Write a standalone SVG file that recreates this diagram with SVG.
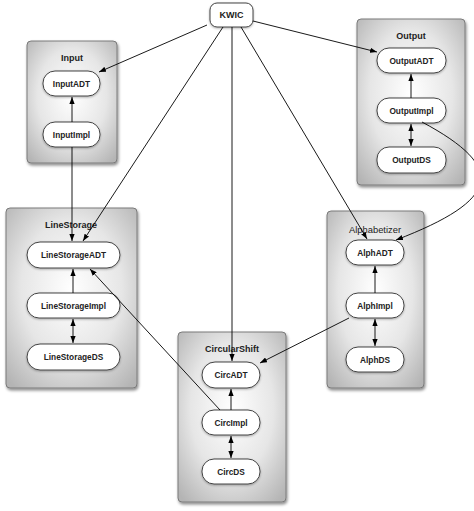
<svg xmlns="http://www.w3.org/2000/svg" width="474" height="511" viewBox="0 0 474 511">
<defs>
<radialGradient id="cg" cx="50%" cy="45%" r="70%">
<stop offset="0" stop-color="#ffffff"/>
<stop offset="0.55" stop-color="#e6e6e6"/>
<stop offset="1" stop-color="#b4b4b4"/>
</radialGradient>
<filter id="sh" x="-10%" y="-10%" width="130%" height="130%">
<feDropShadow dx="1" dy="2" stdDeviation="1.5" flood-color="#000" flood-opacity="0.45"/>
</filter>
<filter id="nsh" x="-10%" y="-10%" width="130%" height="140%">
<feDropShadow dx="0" dy="1" stdDeviation="0.8" flood-color="#000" flood-opacity="0.3"/>
</filter>
<marker id="ah" viewBox="0 0 8 6" refX="8" refY="3" markerWidth="7" markerHeight="5.5" markerUnits="userSpaceOnUse" orient="auto-start-reverse">
<path d="M0,0 L8,3 L0,6 z" fill="#000"/>
</marker>
</defs>
<style>
.cont{fill:url(#cg);stroke:#7a7a7a;stroke-width:1;filter:url(#sh)}
.node{fill:#fff;stroke:#444;stroke-width:1;filter:url(#nsh)}
.title{font-family:"Liberation Sans",Arial,sans-serif;font-size:9px;font-weight:bold;fill:#222;text-anchor:middle}
.atitle{font-family:"Liberation Sans",Arial,sans-serif;font-size:9.4px;fill:#222;text-anchor:middle}
.lbl{font-family:"Liberation Sans",Arial,sans-serif;font-size:8.3px;font-weight:bold;fill:#222;text-anchor:middle}
.e{fill:none;stroke:#000;stroke-width:0.9;marker-end:url(#ah)}
.d{fill:none;stroke:#000;stroke-width:0.9;marker-end:url(#ah);marker-start:url(#ah)}
</style>

<g id="Input">
<rect class="cont" x="27" y="41" width="90" height="122" rx="4"/>
<text class="title" x="72" y="61">Input</text>
</g>
<g id="Output">
<rect class="cont" x="357" y="19" width="108" height="166" rx="4"/>
<text class="title" x="411" y="39">Output</text>
</g>
<g id="LineStorage">
<rect class="cont" x="6" y="208" width="131" height="180" rx="4"/>
<text class="title" x="71" y="228">LineStorage</text>
</g>
<g id="Alphabetizer">
<rect class="cont" x="327" y="211" width="97" height="177" rx="4"/>
<text class="atitle" x="375" y="233">Alphabetizer</text>
</g>
<g id="CircularShift">
<rect class="cont" x="178" y="332" width="108" height="170" rx="4"/>
<text class="title" x="232" y="352">CircularShift</text>
</g>

<g id="KWIC">
<rect class="node" x="210" y="3" width="43" height="24" rx="7"/>
<text class="title" x="231.5" y="18.2">KWIC</text>
</g>
<g id="InputADT">
<rect class="node" x="43" y="71" width="57" height="25" rx="12"/>
<text class="lbl" x="71.5" y="86.5">InputADT</text>
</g>
<g id="InputImpl">
<rect class="node" x="43" y="122" width="57" height="25" rx="12"/>
<text class="lbl" x="71.5" y="137.5">InputImpl</text>
</g>
<g id="OutputADT">
<rect class="node" x="377" y="48" width="69" height="25" rx="12"/>
<text class="lbl" x="411.5" y="63.5">OutputADT</text>
</g>
<g id="OutputImpl">
<rect class="node" x="377" y="98" width="69" height="25" rx="12"/>
<text class="lbl" x="411.5" y="113.5">OutputImpl</text>
</g>
<g id="OutputDS">
<rect class="node" x="377" y="147" width="69" height="26" rx="12"/>
<text class="lbl" x="411.5" y="163">OutputDS</text>
</g>
<g id="LineStorageADT">
<rect class="node" x="27" y="242" width="93" height="26" rx="13"/>
<text class="lbl" x="73.5" y="258">LineStorageADT</text>
</g>
<g id="LineStorageImpl">
<rect class="node" x="27" y="293" width="93" height="25" rx="12"/>
<text class="lbl" x="73.5" y="308.5">LineStorageImpl</text>
</g>
<g id="LineStorageDS">
<rect class="node" x="27" y="344" width="93" height="26" rx="13"/>
<text class="lbl" x="73.5" y="360">LineStorageDS</text>
</g>
<g id="AlphADT">
<rect class="node" x="346" y="240" width="58" height="25" rx="12"/>
<text class="lbl" x="375" y="255.5">AlphADT</text>
</g>
<g id="AlphImpl">
<rect class="node" x="346" y="293" width="58" height="25" rx="12"/>
<text class="lbl" x="375" y="308.5">AlphImpl</text>
</g>
<g id="AlphDS">
<rect class="node" x="346" y="347" width="58" height="25" rx="12"/>
<text class="lbl" x="375" y="362.5">AlphDS</text>
</g>
<g id="CircADT">
<rect class="node" x="202" y="362" width="58" height="26" rx="13"/>
<text class="lbl" x="231" y="378">CircADT</text>
</g>
<g id="CircImpl">
<rect class="node" x="202" y="410" width="58" height="25" rx="12"/>
<text class="lbl" x="231" y="425.5">CircImpl</text>
</g>
<g id="CircDS">
<rect class="node" x="202" y="459" width="58" height="25" rx="12"/>
<text class="lbl" x="231" y="474.5">CircDS</text>
</g>

<g id="connectors">
<path class="e" d="M207,25 L99,72"/>
<path class="e" d="M223,27 L83,241"/>
<path class="e" d="M232,27 L232,361"/>
<path class="e" d="M241,27 L367,239"/>
<path class="e" d="M253,21 L377,52"/>
<path class="e" d="M72,122 L72,97"/>
<path class="e" d="M72,147 L72,241"/>
<path class="e" d="M411,98 L411,74"/>
<path class="d" d="M411,124 L411,146"/>
<path class="e" d="M422,122 C508,168 500,200 396,240"/>
<path class="e" d="M375,293 L375,266"/>
<path class="d" d="M375,319 L375,346"/>
<path class="e" d="M349,318 L260,363"/>
<path class="e" d="M220,410 L90,269"/>
<path class="e" d="M231,410 L231,389"/>
<path class="d" d="M231,436 L231,458"/>
<path class="e" d="M73,293 L73,269"/>
<path class="d" d="M73,319 L73,343"/>
</g>
</svg>
